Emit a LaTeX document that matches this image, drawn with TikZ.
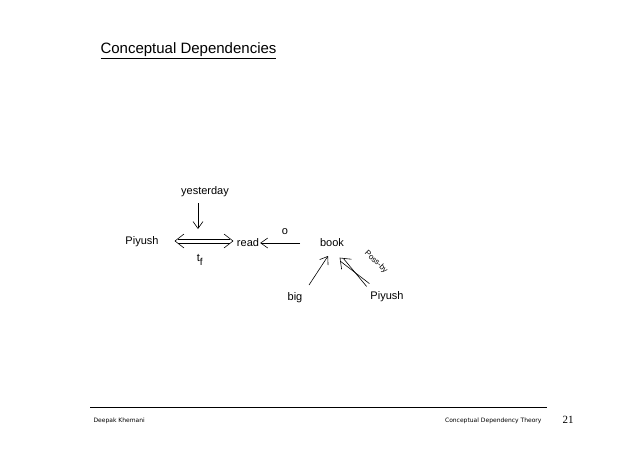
\documentclass[tikz,border=0pt]{standalone}
\usepackage{fontspec}
\setmainfont{Liberation Sans}
\newfontfamily\serifpg{Liberation Serif}
\newfontfamily\footfont{DejaVu Sans}
\usetikzlibrary{arrows.meta,calc}
\begin{document}
\begin{tikzpicture}[x=1pt,y=-1pt,
  lbl/.style={font=\fontsize{11}{13}\selectfont,inner sep=1pt},
  arr/.style={-{Straight Barb[length=7pt,width=10pt]},line width=0.6pt},
  ln/.style={line width=0.6pt}]
\useasboundingbox (0,0) rectangle (638,451);
\node[font=\fontsize{15}{18}\selectfont,anchor=west] (title) at (97,51) {\underline{Conceptual Dependencies}};
\node[lbl] (yest) at (205,192) {yesterday};
\node[lbl] (p1) at (142,242) {Piyush};
\node[lbl] (read) at (248,243) {read};
\node[lbl] (book) at (332,243) {book};
\node[lbl] (tf) at (200,260) {t\textsubscript{\fontsize{10}{10}\selectfont f}};
\node[lbl] (o) at (285,232) {o};
\node[lbl] (big) at (295,298) {big};
\node[lbl] (p2) at (387,297) {Piyush};
% horizontal double arrow
\coordinate (da) at (175,241);
\coordinate (db) at (233,241);
\draw[ln] ($(da)+(3,-2)$) -- ($(db)+(-3,-2)$);
\draw[ln] ($(da)+(3,2)$) -- ($(db)+(-3,2)$);
\draw[ln] ($(da)+(9,-7)$) -- (da) -- ($(da)+(9,7)$);
\draw[ln] ($(db)+(-9,-7)$) -- (db) -- ($(db)+(-9,7)$);
\draw[arr] (198,203) -- (198,229);
\coordinate (ra) at (300,243);
\draw[arr] (ra) -- (read.east);
\coordinate (bg) at (309,285);
\coordinate (bk) at (328,256);
\draw[arr] (bg) -- (bk);
% diagonal double arrow
\coordinate (pa) at (368,285);
\coordinate (pb) at (340,258);
\coordinate (pq) at ($(pb)!3pt!(pa)$);
\coordinate (ph) at ($(pb)!9pt!(pa)$);
\draw[ln] ($(pq)!2pt!90:(pb)$) -- ($(pa)!2pt!-90:(pb)$);
\draw[ln] ($(pq)!2pt!-90:(pb)$) -- ($(pa)!2pt!90:(pb)$);
\draw[ln] ($(ph)!7pt!90:(pb)$) -- (pb) -- ($(ph)!7pt!-90:(pb)$);
\node[font=\fontsize{8}{9}\selectfont,rotate=-45,inner sep=0pt] (poss) at (376,262) {Poss-by};
\draw[line width=0.6pt] (90,407) -- (547,407);
\node[font=\fontsize{6}{7}\selectfont\footfont,anchor=west] (auth) at (90,421) {Deepak Khemani};
\node[font=\fontsize{6}{7}\selectfont\footfont,anchor=east] (cdt) at (545,421) {Conceptual Dependency Theory};
\node[font=\fontsize{11}{12}\selectfont\serifpg] (pg) at (568,420) {21};
\end{tikzpicture}
\end{document}
